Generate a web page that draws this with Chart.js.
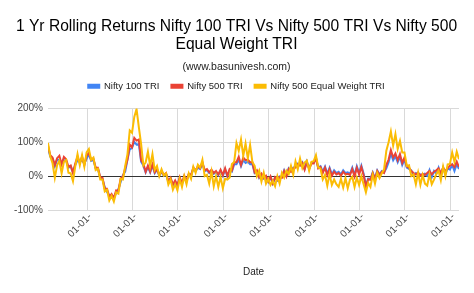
<!DOCTYPE html>
<html>
<head>
<meta charset="utf-8">
<script src="https://cdn.jsdelivr.net/npm/chart.js@4.4.1/dist/chart.umd.min.js"></script>
<style>
  html, body { margin: 0; padding: 0; background: #fff; }
</style>
</head>
<body>
<canvas id="chart" width="474" height="293"></canvas>
<script>
// 1 年滚动收益 - 数据（每年 20 个采样点）
const perYear = 20;
const firstYearOffset = -0.86; // 第一个数据点距第一个 01-01 的年份
const tickLabels = ['01-01-', '01-01-', '01-01-', '01-01-', '01-01-', '01-01-', '01-01-', '01-01-', '01-01-'];
const seriesNames = ['Nifty 100 TRI', 'Nifty 500 TRI', 'Nifty 500 Equal Weight TRI'];

const nifty100 = [
    84, 57, 51, 29, 48, 49, 37, 47, 45, 25,
    29, 11, 33, 47, 43, 47, 37, 51, 65, 45,
    48, 23, 21, -5, -9, -33, -47, -57, -63, -61,
    -51, -39, -17, 3, 13, 49, 79, 83, 101, 93,
    95, 43, 31, 11, 27, 11, 31, 9, 19, 1,
    12, 1, 6, -17, -7, -27, -17, -29, -6, -23,
    -2, -15, 5, 1, 22, 15, 25, 21, 37, 15,
    18, 9, 16, 7, 12, 3, 16, 1, 20, -1,
    18, 13, 35, 35, 49, 29, 47, 39, 43, 35,
    36, 9, 14, -5, 5, -7, -2, -17, -3, -22,
    -5, -13, -1, -3, 17, 1, 23, 15, 25, 27,
    37, 33, 41, 21, 43, 23, 39, 39, 55, 25,
    29, 13, 28, 7, 25, 5, 17, 9, 13, 5,
    17, 9, 11, 7, 25, 3, 29, 9, 31, 7,
    -27, -7, -8, 11, -7, 17, 5, 15, 11, 23,
    41, 67, 47, 59, 41, 57, 33, 49, 25, 21,
    17, 1, 9, 3, 5, -1, 7, 1, 18, -3,
    15, 7, 25, 1, 25, 5, 23, 19, 33, 15,
    35, 21
];

const nifty500 = [
    90, 62, 55, 33, 53, 60, 35, 57, 50, 27,
    31, 9, 37, 57, 39, 57, 33, 61, 68, 49,
    51, 25, 25, -3, -5, -37, -37, -61, -53, -65,
    -42, -43, -7, -1, 23, 49, 93, 85, 113, 105,
    108, 47, 37, 13, 31, 13, 35, 11, 21, 3,
    15, 3, 9, -15, -5, -25, -13, -27, -3, -21,
    1, -13, 7, 3, 25, 17, 29, 23, 41, 17,
    21, 11, 19, 9, 15, 5, 19, 3, 23, 1,
    21, 17, 41, 41, 57, 33, 55, 47, 49, 41,
    41, 11, 17, -3, 7, -5, 1, -15, -1, -21,
    -3, -11, -3, -5, 15, -1, 21, 13, 23, 25,
    35, 31, 39, 19, 41, 21, 37, 37, 53, 23,
    27, 9, 25, 3, 21, 1, 13, 5, 9, 1,
    13, 5, 7, 3, 21, -1, 25, 5, 27, 3,
    -31, -9, -11, 9, -9, 15, 3, 13, 9, 33,
    49, 77, 55, 67, 47, 65, 39, 55, 29, 25,
    15, 9, 5, 11, 1, 7, 3, 9, 15, 5,
    13, 17, 23, 9, 25, 15, 23, 31, 35, 27,
    43, 27
];

const nifty500EW = [
    98, 58, 38, -5, 32, 45, 8, 42, 48, 10,
    8, -15, 28, 65, 32, 62, 28, 70, 80, 48,
    55, 18, 22, -10, -10, -45, -40, -72, -58, -75,
    -48, -52, -8, -10, 30, 65, 135, 128, 175, 198,
    145, 95, 32, 40, 72, 30, 65, 18, 30, 0,
    20, 2, 8, -25, -10, -40, -24, -42, -8, -32,
    0, -24, 8, -8, 28, 10, 34, 25, 48, 0,
    4, -22, 14, -30, 0, -32, -2, -36, -8, -10,
    -4, 36, 42, 98, 75, 108, 60, 96, 52, 92,
    42, 30, 0, 16, -16, 10, -22, -8, -26, -14,
    -30, 0, -22, 10, -4, 16, 6, 30, 4, 44,
    20, 52, 24, 40, 46, 16, 42, 44, 62, 26,
    22, -10, 4, -28, 6, -26, -10, -24, -32, -8,
    -34, -6, -36, -10, -2, -32, -4, -26, 0, -24,
    -48, -20, -32, 4, -22, 10, -6, 8, 20, 75,
    100, 132, 90, 124, 80, 104, 70, 70, 30, 32,
    0, 5, -24, 10, -26, 3, -22, -28, 5, -24,
    -10, 6, 16, -12, 28, 0, 35, 36, 70, 42,
    72, 50
];

const seriesColors = ['#4285f4', '#ea4335', '#fbbc04'];

Chart.defaults.font.family = "'Liberation Sans', Arial, sans-serif";

// 把数值转换成 {x, y}，x 单位为年
function toPoints(values) {
    return values.map((v, i) => ({ x: firstYearOffset + i / perYear, y: v }));
}

const lastX = firstYearOffset + (nifty500EW.length - 1) / perYear;

// 图例下方多留一点空间
const legendSpacer = {
    id: 'legendSpacer',
    beforeInit(chart) {
        const origFit = chart.legend.fit;
        chart.legend.fit = function () {
            origFit.call(this);
            this.height += 7.4;
        };
    }
};

const ctx = document.getElementById('chart').getContext('2d');
new Chart(ctx, {
    type: 'line',
    data: {
        datasets: [nifty100, nifty500, nifty500EW].map((vals, idx) => ({
            label: seriesNames[idx],
            data: toPoints(vals),
            borderColor: seriesColors[idx],
            backgroundColor: seriesColors[idx],
            borderWidth: 2,
            pointRadius: 0,
            tension: 0,
            fill: false,
            order: 2 - idx
        }))
    },
    options: {
        responsive: false,
        animation: false,
        layout: { padding: { left: 14, right: 15, top: 0, bottom: 0 } },
        plugins: {
            title: {
                display: true,
                text: ['1 Yr Rolling Returns Nifty 100 TRI Vs Nifty 500 TRI Vs Nifty 500', 'Equal Weight TRI'],
                color: '#000',
                font: { size: 15.6, weight: 'normal', lineHeight: 1.15 },
                padding: { top: 18, bottom: 4 }
            },
            subtitle: {
                display: true,
                text: '(www.basunivesh.com)',
                color: '#222',
                font: { size: 10.5, lineHeight: 1.2 },
                padding: { top: 3, bottom: -4 }
            },
            legend: {
                position: 'top',
                labels: {
                    boxWidth: 11,
                    boxHeight: 3,
                    padding: 12,
                    color: '#222',
                    font: { size: 9.5 },
                    sort: (a, b) => a.datasetIndex - b.datasetIndex
                }
            },
            tooltip: { enabled: false }
        },
        scales: {
            x: {
                type: 'linear',
                min: firstYearOffset,
                max: lastX,
                afterBuildTicks: scale => {
                    scale.ticks = tickLabels.map((_, k) => ({ value: k }));
                },
                afterFit: scale => { scale.height = 83; },
                ticks: {
                    minRotation: 45,
                    maxRotation: 45,
                    padding: 1,
                    labelOffset: 3,
                    color: '#444',
                    font: { size: 10 },
                    callback: (value, index) => tickLabels[index]
                },
                grid: { color: '#d9d9d9', drawTicks: false },
                border: { display: false },
                title: {
                    display: true,
                    text: 'Date',
                    color: '#222',
                    font: { size: 10 },
                    padding: { top: 0, bottom: 15 }
                }
            },
            y: {
                min: -100,
                max: 200,
                afterFit: scale => { scale.width = 34; },
                ticks: {
                    stepSize: 100,
                    padding: 5,
                    color: '#444',
                    font: { size: 10 },
                    callback: v => v + '%'
                },
                grid: {
                    color: c => (c.tick && c.tick.value === 0 ? '#333' : '#d9d9d9'),
                    drawTicks: false
                },
                border: { display: false }
            }
        }
    },
    plugins: [legendSpacer]
});
</script>
</body>
</html>
